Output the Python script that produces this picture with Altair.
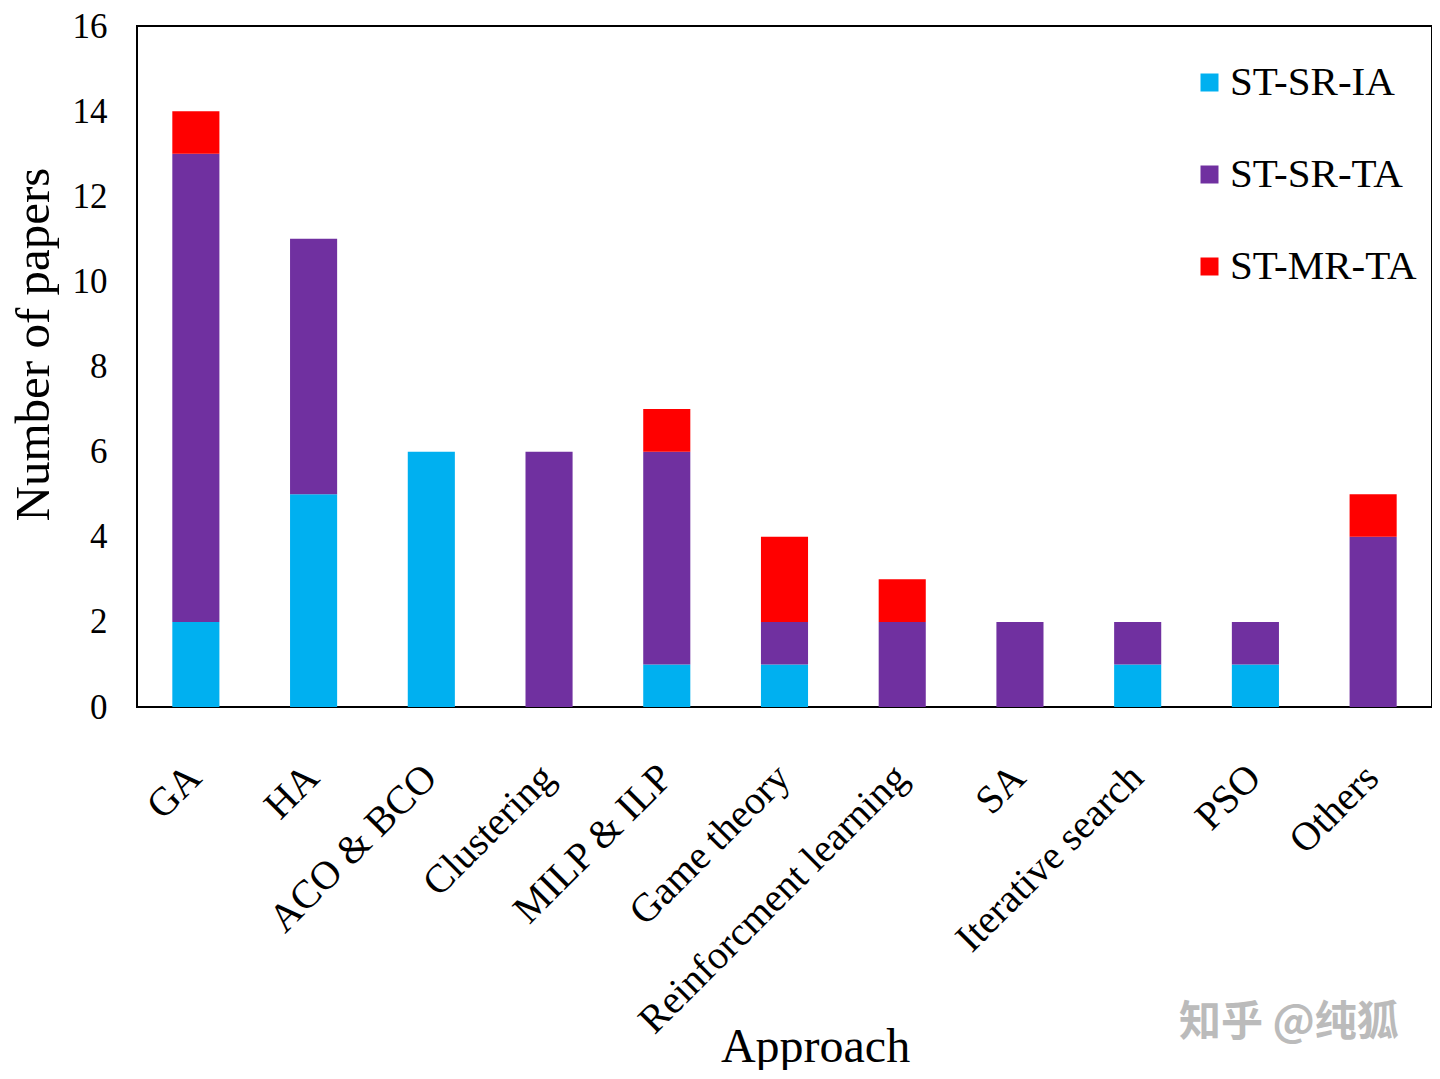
import altair as alt
import pandas as pd

categories = ["GA", "HA", "ACO & BCO", "Clustering", "MILP & ILP", "Game theory",
              "Reinforcment learning", "SA", "Iterative search", "PSO", "Others"]
series = ["ST-SR-IA", "ST-SR-TA", "ST-MR-TA"]
st_sr_ia = [2, 5, 6, 0, 1, 1, 0, 0, 1, 1, 0]
st_sr_ta = [11, 6, 0, 6, 5, 1, 2, 2, 1, 1, 4]
st_mr_ta = [1, 0, 0, 0, 1, 2, 1, 0, 0, 0, 1]
colors = ["#00B0F0", "#7030A0", "#FF0000"]

rows = []
for i, c in enumerate(categories):
    for k, (s, vals) in enumerate(zip(series, [st_sr_ia, st_sr_ta, st_mr_ta])):
        rows.append({"Approach": c, "Series": s, "Value": vals[i], "ord": k})
df = pd.DataFrame(rows)

FONT = "Liberation Serif"

bars = alt.Chart(df).mark_bar().encode(
    x=alt.X("Approach:N", sort=categories,
            scale=alt.Scale(paddingInner=0.6, paddingOuter=0.3),
            axis=alt.Axis(title="Approach", labelAngle=-45, labelFontSize=40,
                          labelPadding=50, labelOffset=-15, labelLimit=1000,
                          ticks=False, domain=False,
                          titleFontSize=48, titleFontWeight="normal",
                          titleY=354, titleX=678, titleBaseline="alphabetic")),
    y=alt.Y("Value:Q", stack="zero",
            scale=alt.Scale(domain=[0, 16], nice=False),
            axis=alt.Axis(title="Number of papers", values=list(range(0, 17, 2)),
                          labelFontSize=35, labelPadding=30, ticks=False,
                          domain=False, grid=False, titleFontSize=49,
                          titleFontWeight="normal", titleX=-104, titleY=318,
                          titleBaseline="middle")),
    color=alt.Color("Series:N", scale=alt.Scale(domain=series, range=colors),
                    legend=alt.Legend(title=None, orient="none", legendX=1052,
                                      legendY=36, symbolType="square",
                                      symbolSize=324, labelFontSize=41,
                                      rowPadding=50, labelOffset=0,
                                      labelLimit=1000, symbolStrokeWidth=0)),
    order=alt.Order("ord:Q"),
)

wm = alt.Chart(pd.DataFrame({"t": ["知乎 @纯狐"]})).mark_text(
    font="Noto Sans CJK SC", fontSize=42, color="#BBBBBB", align="left",
    baseline="middle", fontWeight="bold"
).encode(text="t:N", x=alt.value(1042), y=alt.value(997))

chart = alt.layer(bars, wm).properties(
    width=1295, height=681,
    autosize=alt.AutoSizeParams(type="none"),
    padding={"left": 129, "top": 18, "right": 0, "bottom": 363},
).configure(
    font=FONT
).configure_view(
    stroke="black", strokeWidth=2
).configure_axis(
    labelFont=FONT, titleFont=FONT, labelColor="black", titleColor="black"
).configure_legend(labelFont=FONT, labelColor="black")

chart.save("out.html", embed_options={"renderer": "svg", "actions": False})
